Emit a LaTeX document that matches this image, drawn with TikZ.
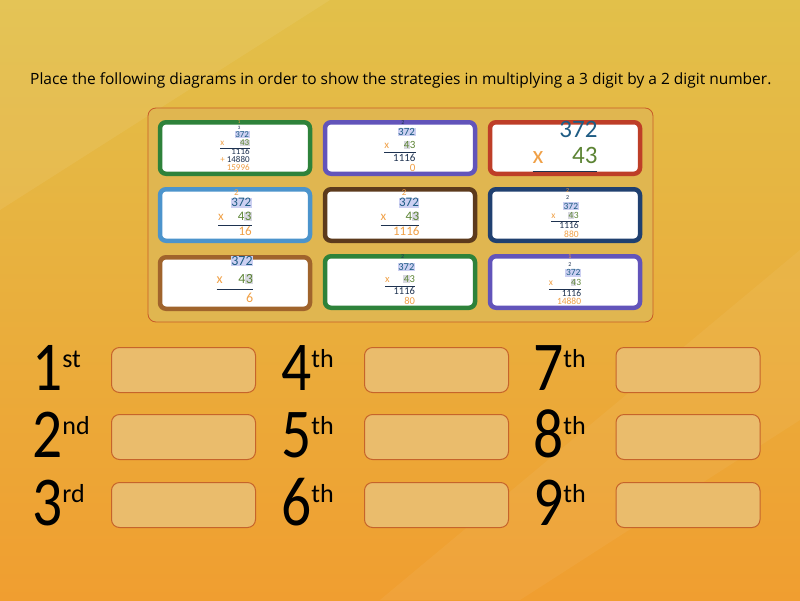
\documentclass[tikz,border=0pt]{standalone}
\usepackage{fontspec}
\setmainfont{Carlito}
\newfontfamily\taskfont{Open Sans}
\usepackage{xcolor}
\usepackage{colortbl}
\usetikzlibrary{positioning}

\definecolor{bgtop}{RGB}{226,192,74}
\definecolor{bgmid}{RGB}{234,176,60}
\definecolor{bgbot}{RGB}{240,158,48}
\definecolor{trayfill}{RGB}{224,182,80}
\definecolor{trayline}{RGB}{200,92,40}
\definecolor{slotfill}{RGB}{234,188,108}
\definecolor{slotline}{RGB}{198,100,42}
\definecolor{cgreen}{RGB}{46,130,58}
\definecolor{cpurple}{RGB}{98,84,186}
\definecolor{cred}{RGB}{190,62,40}
\definecolor{cblue}{RGB}{76,148,204}
\definecolor{cbrown}{RGB}{92,58,28}
\definecolor{cnavy}{RGB}{32,64,112}
\definecolor{ctan}{RGB}{160,100,44}
\definecolor{numblue}{RGB}{30,92,132}
\definecolor{numgreen}{RGB}{92,132,52}
\definecolor{numorange}{RGB}{240,160,70}
\definecolor{numdark}{RGB}{30,50,80}
\definecolor{hl}{RGB}{204,208,242}
\definecolor{hlgrey}{RGB}{216,216,224}

% highlighted digits, carries, ordinal label, card body
\newcommand{\hlnum}[1]{{\setlength{\fboxsep}{0.6pt}\colorbox{hl}{\color{numblue}#1}}}
\newcommand{\hlg}[1]{{\setlength{\fboxsep}{0.4pt}\colorbox{hlgrey}{#1}}}
\newcommand{\carry}[2]{{\fontsize{#1}{#1}\selectfont #2}}
\newcommand{\ordlabel}[2]{\scalebox{0.85}[1]{\fontsize{70}{70}\selectfont #1}\raisebox{23pt}{\fontsize{26}{26}\selectfont #2}}
\newcommand{\sumcol}[3]{{\fontsize{#1}{#2}\selectfont\setlength{\tabcolsep}{1pt}\arrayrulecolor{numdark}%
  \raisebox{-0.25em}{\begin{tabular}{@{}lr@{}}#3\end{tabular}}}}
\newcommand{\orn}[1]{{\color{numorange}#1}}
\newcommand{\dkn}[1]{{\color{numdark}#1}}
\newcommand{\grn}[1]{{\color{numgreen}#1}}

\begin{document}
\begin{tikzpicture}[x=1pt,y=-1pt,
    card/.style={draw=#1, line width=4.5pt, rounded corners=6pt, fill=white,
      minimum width=150pt, minimum height=51.5pt, inner sep=0pt,
      text height=17.5pt, text depth=22.5pt},
    slot/.style={draw=slotline, fill=slotfill, line width=1pt, rounded corners=8pt,
      minimum width=144pt, minimum height=45pt},
    ordinal/.style={anchor=base west, inner sep=0pt, text=black}]
  \useasboundingbox (0,0) rectangle (800,600);
  \shade[top color=bgtop, middle color=bgmid, bottom color=bgbot] (0,0) rectangle (800,600);
  \fill[white, opacity=0.07] (0,0) -- (330,0) -- (0,210) -- cycle;
  \fill[white, opacity=0.05] (800,250) -- (800,420) -- (520,600) -- (380,600) -- cycle;

  \node[anchor=base west, inner sep=0pt, font=\taskfont\fontsize{15.5}{18}\selectfont] (task) at (30,84)
    {Place the following diagrams in order to show the strategies in multiplying a 3 digit by a 2 digit number.};

  % tray of cards
  \draw[draw=trayline, fill=trayfill, line width=0.8pt, rounded corners=8pt] (148,108) rectangle (653,322);

  \node[card=cgreen] (c1) at (235,148) {\sumcol{9}{7.2}{
      & \carry{5}{\orn{1}}\phantom{72}\\[-2pt]
      & \carry{5}{\dkn{3}}\phantom{72}\\[-1pt]
      & \hlnum{372}\\
      \orn{x} & \hlg{\grn{43}}\\ \hline
      & \dkn{1116}\\
      \orn{+} & \dkn{14880}\\
      & \orn{15996}}};
  \node[card=cpurple] (c2) at (400,148) {\sumcol{11}{12.5}{
      & \carry{6}{\dkn{2}}\phantom{72}\\[-1pt]
      & \hlnum{372}\\
      \orn{x}\hspace{2pt} & \grn{\hlg{4}3}\\ \hline
      & \dkn{1116}\\[-2pt]
      & \orn{0}}};
  \node[card=cred] (c3) at (565,148) {\sumcol{25}{25.5}{
      & {\color{numblue}372}\\
      \orn{x}\hspace{14pt} & \grn{43}\hspace{5pt}\\ \hline}};

  \node[card=cblue] (c4) at (235,215) {\sumcol{13}{14}{
      & \carry{9}{\orn{2}}\phantom{72}\\[-3pt]
      & \hlnum{372}\\
      \orn{x}\hspace{5pt} & \grn{4\hlg{3}}\\ \hline
      & \orn{16}}};
  \node[card=cbrown] (c5) at (400,215) {\sumcol{13}{14}{
      & \carry{9}{\orn{2}}\phantom{72}\\[-3pt]
      & \hlnum{372}\\
      \orn{x}\hspace{5pt} & \grn{4\hlg{3}}\\ \hline
      & \orn{1116}}};
  \node[card=cnavy] (c6) at (565,215) {\sumcol{9.5}{9.5}{
      & \carry{6}{\orn{2}}\phantom{72}\\[-2pt]
      & \carry{6}{\dkn{2}}\phantom{72}\\[0pt]
      & \hlnum{372}\\
      \orn{x}\hspace{2pt} & \grn{\hlg{4}3}\\ \hline
      & \dkn{1116}\\[-1pt]
      & \orn{880}}};

  \node[card=ctan] (c7) at (235,283) {\sumcol{14}{18.5}{
      & \hlnum{372}\\
      \orn{x}\hspace{6pt} & \grn{4\hlg{3}}\\ \hline
      & \orn{6}\hspace{2pt}}};
  \node[card=cgreen] (c8) at (400,282) {\sumcol{10.5}{12}{
      & \carry{6}{\dkn{2}}\phantom{72}\\[0pt]
      & \hlnum{372}\\
      \orn{x}\hspace{2pt} & \grn{\hlg{4}3}\\ \hline
      & \dkn{1116}\\[-2pt]
      & \orn{80}}};
  \node[card=cpurple] (c9) at (565,282) {\sumcol{9.5}{10}{
      & \carry{6}{\orn{1}}\phantom{72}\\[-2pt]
      & \carry{6}{\dkn{2}}\phantom{72}\\[-1pt]
      & \hlnum{372}\\
      \orn{x}\hspace{2pt} & \grn{\hlg{4}3}\\ \hline
      & \dkn{1116}\\[-2pt]
      & \orn{14880}}};

  % answer slots
  \node[ordinal] (o1) at (32,390) {\ordlabel{1}{st}};
  \node[ordinal] (o2) at (32,457) {\ordlabel{2}{nd}};
  \node[ordinal] (o3) at (32,525) {\ordlabel{3}{rd}};
  \node[ordinal] (o4) at (281,390) {\ordlabel{4}{th}};
  \node[ordinal] (o5) at (281,457) {\ordlabel{5}{th}};
  \node[ordinal] (o6) at (281,525) {\ordlabel{6}{th}};
  \node[ordinal] (o7) at (533,390) {\ordlabel{7}{th}};
  \node[ordinal] (o8) at (533,457) {\ordlabel{8}{th}};
  \node[ordinal] (o9) at (533,525) {\ordlabel{9}{th}};

  \node[slot] (s1) at (183.5,370) {};
  \node[slot] (s2) at (183.5,437) {};
  \node[slot] (s3) at (183.5,505) {};
  \node[slot] (s4) at (436.5,370) {};
  \node[slot] (s5) at (436.5,437) {};
  \node[slot] (s6) at (436.5,505) {};
  \node[slot] (s7) at (688,370) {};
  \node[slot] (s8) at (688,437) {};
  \node[slot] (s9) at (688,505) {};
\end{tikzpicture}
\end{document}
